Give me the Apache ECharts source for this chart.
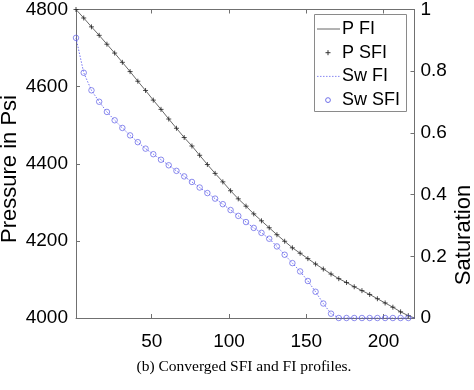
<!DOCTYPE html>
<html>
<head>
<meta charset="utf-8">
<script src="https://cdn.jsdelivr.net/npm/echarts@6/dist/echarts.min.js"></script>
<style>
html,body{margin:0;padding:0;background:#fff;}
#chart{width:474px;height:390px;}
</style>
</head>
<body>
<div id="chart"></div>
<script>
// grid cells where SFI markers are shown
var cells = [1, 6, 11, 16, 21, 26, 31, 36, 41, 46, 51, 56, 61, 66, 71, 76, 81, 86, 91, 96,
             101, 106, 111, 116, 121, 126, 131, 136, 141, 146, 151, 156, 161, 166, 171, 176, 181, 186, 191, 196,
             201, 206, 211, 216];
// pressure (psi), SFI
var pSFI = [4800, 4778, 4755, 4733, 4710, 4687, 4663, 4639, 4614, 4590, 4565, 4541, 4516, 4492, 4468, 4446, 4422, 4398, 4375, 4353,
            4330, 4309, 4290, 4270, 4252, 4234, 4216, 4199, 4182, 4168, 4154, 4140, 4127, 4114, 4102, 4092, 4081, 4071, 4061, 4050,
            4039, 4028, 4016, 4006];
// water saturation, SFI
var swSFI = [0.908, 0.795, 0.738, 0.701, 0.668, 0.641, 0.616, 0.592, 0.570, 0.549, 0.531, 0.513, 0.495, 0.477, 0.459, 0.441, 0.423, 0.405, 0.387, 0.369,
             0.350, 0.331, 0.311, 0.292, 0.276, 0.257, 0.232, 0.205, 0.178, 0.151, 0.120, 0.085, 0.047, 0.014, 0, 0, 0, 0, 0, 0,
             0, 0, 0, 0];
// FI profiles (same cells plus the last cell)
var fiCells = cells.concat([220]);
var pFI = pSFI.concat([4000]);
var swFI = swSFI.concat([0]);

var xTicks = [50, 100, 150, 200];
var pTicks = [4000, 4200, 4400, 4600, 4800];
var sTicks = [0, 0.2, 0.4, 0.6, 0.8, 1];

var legendNames = ['P FI', 'P SFI', 'Sw FI', 'Sw SFI'];
var caption = '(b) Converged SFI and FI profiles.';

function pairs(xs, ys){ return xs.map(function(x,i){ return [x, ys[i]]; }); }

var axisCol = '#707070';
var font = 'Liberation Sans, Arial, sans-serif';
var chart = echarts.init(document.getElementById('chart'), null, {renderer:'canvas'});

var lgX = 314, lgY = 14, lgW = 92, lgH = 97, rowH = 23.7;
var graphics = [
  {type:'text', rotation:Math.PI/2,
   style:{text:'Pressure in Psi', font:'22px ' + font, fill:'#000', textAlign:'center', textVerticalAlign:'middle'},
   position:[10, 169]},
  {type:'text', rotation:Math.PI/2,
   style:{text:'Saturation', font:'22px ' + font, fill:'#000', textAlign:'center', textVerticalAlign:'middle'},
   position:[464, 235]},
  {type:'text',
   style:{text:caption, font:'15.5px "Liberation Serif", "Times New Roman", serif', fill:'#000', textAlign:'center', textVerticalAlign:'middle'},
   position:[244, 367]},
  {type:'rect', shape:{x:lgX+0.5, y:lgY+0.5, width:lgW, height:lgH},
   style:{fill:'#fff', stroke:'#8a8a8a', lineWidth:1}, z:10}
];
legendNames.forEach(function(n, i){
  var cy = lgY + 15 + i*rowH;
  graphics.push({type:'text', z:11, position:[lgX+28, cy],
    style:{text:n, font:'18px ' + font, fill:'#000', textVerticalAlign:'middle'}});
  if (i === 0) graphics.push({type:'line', z:11, shape:{x1:lgX+3, y1:cy, x2:lgX+26, y2:cy}, style:{stroke:'#404040', lineWidth:0.8}});
  if (i === 1) graphics.push({type:'line', z:11, shape:{x1:lgX+11.5, y1:cy, x2:lgX+16.5, y2:cy}, style:{stroke:'#333', lineWidth:1}},
                             {type:'line', z:11, shape:{x1:lgX+14, y1:cy-2.5, x2:lgX+14, y2:cy+2.5}, style:{stroke:'#333', lineWidth:1}});
  if (i === 2) graphics.push({type:'line', z:11, shape:{x1:lgX+3, y1:cy, x2:lgX+26, y2:cy}, style:{stroke:'#6a6af0', lineWidth:0.8, lineDash:[1.5,1.5]}});
  if (i === 3) graphics.push({type:'circle', z:11, shape:{cx:lgX+14, cy:cy, r:2.4}, style:{fill:'none', stroke:'#6060e6', lineWidth:0.9}});
});

var option = {
  animation:false,
  backgroundColor:'#fff',
  grid:{left:76, right:59.5, top:7, bottom:72, containLabel:false},
  xAxis:[{
    type:'value', min:1, max:220, position:'bottom',
    axisLine:{show:true, lineStyle:{color:axisCol, width:1}},
    axisTick:{show:true, inside:true, length:4, customValues:xTicks, lineStyle:{color:axisCol}},
    axisLabel:{show:true, customValues:xTicks, color:'#000', fontSize:19, fontFamily:font, margin:14},
    splitLine:{show:false}
  },{
    type:'value', min:1, max:220, position:'top',
    axisLine:{show:true, onZero:false, lineStyle:{color:axisCol, width:1}},
    axisTick:{show:true, inside:true, length:4, customValues:xTicks, lineStyle:{color:axisCol}},
    axisLabel:{show:false},
    splitLine:{show:false}
  }],
  yAxis:[{
    type:'value', min:4000, max:4800, interval:200, position:'left',
    axisLine:{show:true, lineStyle:{color:axisCol, width:1}},
    axisTick:{show:true, inside:true, length:4, lineStyle:{color:axisCol}},
    axisLabel:{color:'#000', fontSize:19, fontFamily:font, margin:8,
      formatter:function(v){ return String(v); }},
    splitLine:{show:false}
  },{
    type:'value', min:0, max:1, interval:0.2, position:'right',
    axisLine:{show:true, lineStyle:{color:axisCol, width:1}},
    axisTick:{show:true, inside:true, length:4, lineStyle:{color:axisCol}},
    axisLabel:{color:'#000', fontSize:19, fontFamily:font, margin:6,
      formatter:function(v){ return (v===0||v===1) ? String(v) : v.toFixed(1); }},
    splitLine:{show:false}
  }],
  series:[{
    name:'P FI', type:'line', xAxisIndex:0, yAxisIndex:0, data:pairs(fiCells, pFI),
    symbol:'none', lineStyle:{color:'#404040', width:0.8}, z:3
  },{
    name:'P SFI', type:'scatter', xAxisIndex:0, yAxisIndex:0, data:pairs(cells, pSFI),
    symbol:'path://M0,5L10,5M5,0L5,10', symbolSize:5,
    itemStyle:{color:'rgba(0,0,0,0)', borderColor:'#222', borderWidth:1}, z:4
  },{
    name:'Sw FI', type:'line', xAxisIndex:0, yAxisIndex:1, data:pairs(fiCells, swFI),
    symbol:'none', lineStyle:{color:'#5050f0', width:0.8, type:[1.5,1.5]}, z:3
  },{
    name:'Sw SFI', type:'scatter', xAxisIndex:0, yAxisIndex:1, data:pairs(cells, swSFI),
    symbol:'circle', symbolSize:5.5,
    itemStyle:{color:'rgba(0,0,0,0)', borderColor:'#6060e6', borderWidth:0.9}, z:4
  }],
  graphic:graphics
};
chart.setOption(option);
</script>
</body>
</html>
